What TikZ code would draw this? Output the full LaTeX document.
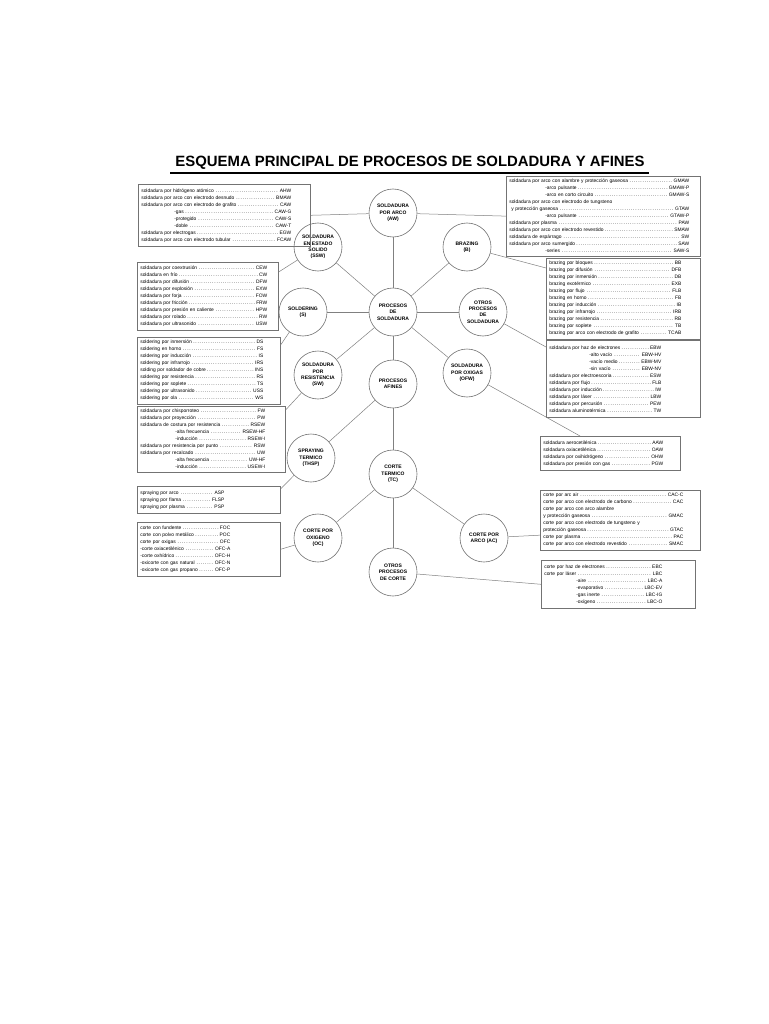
\documentclass[tikz,border=0pt]{standalone}
\usepackage{fontspec}
\setmainfont{Liberation Sans}
\newlength\rowwd
\newcommand\pline[3][0pt]{\hbox to \rowwd{\hskip#1\relax #2\,\dotfill\,#3}}
\newcommand\ptext[2][0pt]{\hbox{\hskip#1\relax #2}}
\begin{document}
\begin{tikzpicture}[x=1pt,y=-1pt,
    proc/.style={circle, draw=black!55, line width=0.6pt, minimum size=48pt, inner sep=0pt,
      align=center, font=\fontsize{5}{6.4}\selectfont\bfseries},
    listbox/.style 2 args={draw=black!55, line width=0.6pt, anchor=north west, inner sep=3pt,
      text width=#1, font=\fontsize{4.9}{7}\selectfont,
      execute at begin node={\setlength\rowwd{#2}}},
    link/.style={draw=black!50, line width=0.5pt}]
  \useasboundingbox[fill=white] (0,0) rectangle (768,1024);

  % Titulo
  \node (titulo) at (410,163) {\fontsize{14.9}{16}\selectfont\bfseries ESQUEMA PRINCIPAL DE PROCESOS DE SOLDADURA Y AFINES};
  \draw[line width=2.6pt] (170,173) -- (649,173);

  % Procesos de soldadura
  \node[proc] (PS)  at (393,312) {PROCESOS\\DE\\SOLDADURA};
  \node[proc] (AW)  at (393,213) {SOLDADURA\\POR ARCO\\(AW)};
  \node[proc] (SSW) at (318,247) {SOLDADURA\\EN ESTADO\\SOLIDO\\(SSW)};
  \node[proc] (B)   at (467,247) {BRAZING\\(B)};
  \node[proc] (S)   at (303,312) {SOLDERING\\(S)};
  \node[proc] (OPS) at (483,312) {OTROS\\PROCESOS\\DE\\SOLDADURA};
  \node[proc] (SW)  at (318,375) {SOLDADURA\\POR\\RESISTENCIA\\(SW)};
  \node[proc] (PA)  at (393,384) {PROCESOS\\AFINES};
  \node[proc] (OFW) at (467,373) {SOLDADURA\\POR OXIGAS\\(OFW)};

  % Procesos afines
  \node[proc] (THSP) at (311,458) {SPRAYING\\TERMICO\\(THSP)};
  \node[proc] (TC)   at (393,474) {CORTE\\TERMICO\\(TC)};
  \node[proc] (OC)   at (318,538) {CORTE POR\\OXIGENO\\(OC)};
  \node[proc] (AC)   at (484,538) {CORTE POR\\ARCO (AC)};
  \node[proc] (OPC)  at (393,572) {OTROS\\PROCESOS\\DE CORTE};

  % Listas
  \node[listbox={166pt}{150pt}, minimum height=62pt] (awL) at (138,184) {%
    \pline{soldadura por hidrógeno atómico}{AHW}
    \pline{soldadura por arco con electrodo desnudo}{BMAW}
    \pline{soldadura por arco con electrodo de grafito}{CAW}
    \pline[33pt]{-gas}{CAW-G}
    \pline[33pt]{-protegido}{CAW-S}
    \pline[33pt]{-doble}{CAW-T}
    \pline{soldadura por electrogas}{EGW}
    \pline{soldadura por arco con electrodo tubular}{FCAW}};
  \node[listbox={188pt}{180pt}, minimum height=78pt] (awR) at (506,176) {%
    \pline{soldadura por arco con alambre y protección gaseosa}{GMAW}
    \pline[36pt]{-arco pulsante}{GMAW-P}
    \pline[36pt]{-arco en corto circuito}{GMAW-S}
    \ptext{soldadura por arco con electrodo de tungsteno}
    \pline[2pt]{y protección gaseosa}{GTAW}
    \pline[36pt]{-arco pulsante}{GTAW-P}
    \pline{soldadura por plasma}{PAW}
    \pline{soldadura por arco con electrodo revestido}{SMAW}
    \pline{soldadura de espárrago}{SW}
    \pline{soldadura por arco sumergido}{SAW}
    \pline[36pt]{-series}{SAW-S}};
  \node[listbox={135pt}{127pt}, minimum height=68pt] (sswL) at (137,262) {%
    \pline{soldadura por coextrusión}{CEW}
    \pline{soldadura en frío}{CW}
    \pline{soldadura por difusión}{DFW}
    \pline{soldadura por explosión}{EXW}
    \pline{soldadura por forja}{FOW}
    \pline{soldadura por fricción}{FRW}
    \pline{soldadura por presión en caliente}{HPW}
    \pline{soldadura por rolado}{RW}
    \pline{soldadura por ultrasonido}{USW}};
  \node[listbox={148pt}{132pt}, minimum height=80pt] (bL) at (546,258) {%
    \pline{brazing por bloques}{BB}
    \pline{brazing por difusión}{DFB}
    \pline{brazing por inmersión}{DB}
    \pline{brazing exotérmico}{EXB}
    \pline{brazing por flujo}{FLB}
    \pline{brazing en horno}{FB}
    \pline{brazing por inducción}{IB}
    \pline{brazing por infrarrojo}{IRB}
    \pline{brazing por resistencia}{RB}
    \pline{brazing por soplete}{TB}
    \pline{brazing por arco con electrodo de grafito}{TCAB}};
  \node[listbox={137pt}{123pt}, minimum height=64pt] (sL) at (137,337) {%
    \pline{soldering por inmersión}{DS}
    \pline{soldering en horno}{FS}
    \pline{soldering por inducción}{IS}
    \pline{soldering por infrarrojo}{IRS}
    \pline{solding por soldador de cobre}{INS}
    \pline{soldering por resistencia}{RS}
    \pline{soldering por soplete}{TS}
    \pline{soldering por ultrasonido}{USS}
    \pline{soldering por ola}{WS}};
  \node[listbox={148pt}{112pt}, minimum height=77pt] (opsL) at (546,340) {%
    \pline{soldadura por haz de electrones}{EBW}
    \pline[40pt]{-alto vacío}{EBW-HV}
    \pline[40pt]{-vacío medio}{EBW-MV}
    \pline[40pt]{-sin vacío}{EBW-NV}
    \pline{soldadura por electroescoria}{ESW}
    \pline{soldadura por flujo}{FLB}
    \pline{soldadura por inducción}{IW}
    \pline{soldadura por láser}{LBW}
    \pline{soldadura por percusión}{PEW}
    \pline{soldadura aluminotérmica}{TW}};
  \node[listbox={142pt}{125pt}, minimum height=64pt] (swL) at (137,406) {%
    \pline{soldadura por chisporroteo}{FW}
    \pline{soldadura por proyección}{PW}
    \pline{soldadura de costura por resistencia}{RSEW}
    \pline[35pt]{-alta frecuencia}{RSEW-HF}
    \pline[35pt]{-inducción}{RSEW-I}
    \pline{soldadura por resistencia por punto}{RSW}
    \pline{soldadura por recalcado}{UW}
    \pline[35pt]{-alta frecuencia}{UW-HF}
    \pline[35pt]{-inducción}{USEW-I}};
  \node[listbox={134pt}{120pt}, minimum height=34pt] (ofwL) at (540,436) {%
    \pline{soldadura aerocetilénica}{AAW}
    \pline{soldadura oxiacetilénica}{OAW}
    \pline{soldadura por oxihidrógeno}{OHW}
    \pline{soldadura por presión con gas}{PGW}};
  \node[listbox={137pt}{84pt}, minimum height=27pt] (thspL) at (137,486) {%
    \pline{spraying por arco}{ASP}
    \pline{spraying por flama}{FLSP}
    \pline{spraying por plasma}{PSP}};
  \node[listbox={137pt}{90pt}, minimum height=54pt] (ocL) at (137,522) {%
    \pline{corte con fundente}{FOC}
    \pline{corte con polvo metálico}{POC}
    \pline{corte por oxigas}{OFC}
    \pline{-corte oxiacetilénico}{OFC-A}
    \pline{-corte oxhídrico}{OFC-H}
    \pline{-oxicorte con gas natural}{OFC-N}
    \pline{-oxicorte con gas propano}{OFC-P}};
  \node[listbox={154pt}{140pt}, minimum height=55pt] (acL) at (540,490) {%
    \pline{corte por arc air}{CAC-C}
    \pline{corte por arco con electrodo de carbono}{CAC}
    \ptext{corte por arco con arco alambre}
    \pline{y protección gaseosa}{GMAC}
    \ptext{corte por arco con electrodo de tungsteno y}
    \pline{protección gaseosa}{GTAC}
    \pline{corte por plasma}{PAC}
    \pline{corte por arco con electrodo revestido}{SMAC}};
  \node[listbox={148pt}{118pt}, minimum height=48pt] (opcL) at (541,560) {%
    \pline{corte por haz de electrones}{EBC}
    \pline{corte por láser}{LBC}
    \pline[32pt]{-aire}{LBC-A}
    \pline[32pt]{-evaporativo}{LBC-EV}
    \pline[32pt]{-gas inerte}{LBC-IG}
    \pline[32pt]{-oxígeno}{LBC-O}};

  % Conexiones
  \foreach \n in {AW,SSW,B,S,OPS,SW,PA,OFW}
    \draw[link] (PS) -- (\n);
  \draw[link] (PA) -- (THSP);
  \draw[link] (PA) -- (TC);
  \foreach \n in {OC,AC,OPC}
    \draw[link] (TC) -- (\n);

  % Conexiones a las listas
  \draw[link] (AW) -- (awL.east);
  \draw[link] (AW) -- (awR.west);
  \draw[link] (SSW) -- ([yshift=-10pt]sswL.north east);
  \draw[link] (B) -- ([yshift=-10pt]bL.north west);
  \draw[link] (S) -- ([yshift=-8pt]sL.north east);
  \draw[link] (OPS) -- ([yshift=-7pt]opsL.north west);
  \draw[link] (SW) -- ([yshift=-4pt]swL.north east);
  \draw[link] (OFW) -- ([xshift=40pt]ofwL.north west);
  \draw[link] (THSP) -- ([yshift=-3pt]thspL.north east);
  \draw[link] (OC) -- (ocL.east);
  \draw[link] (AC) -- ([yshift=15pt]acL.south west);
  \draw[link] (OPC) -- (opcL.west);
\end{tikzpicture}
\end{document}
